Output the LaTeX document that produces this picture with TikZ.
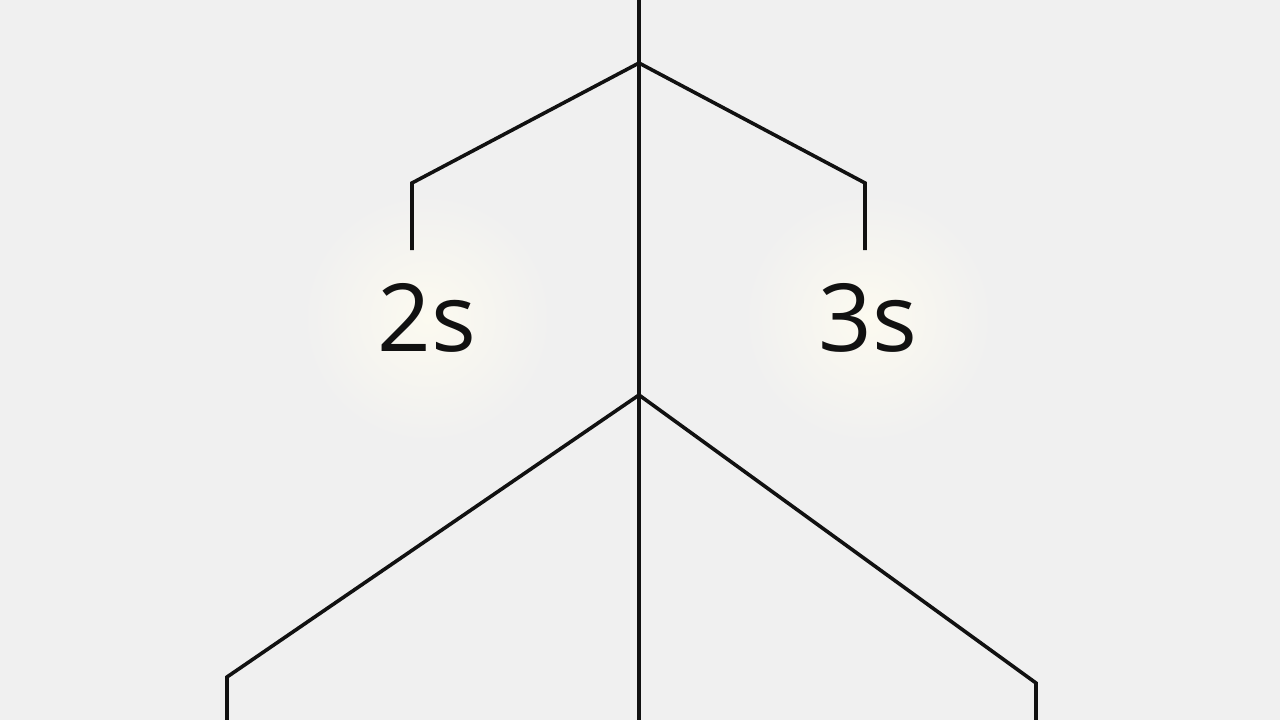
\documentclass[tikz,border=0pt]{standalone}
\usepackage{fontspec}
\setmainfont{Open Sans}
\usetikzlibrary{positioning}
\definecolor{bg}{RGB}{240,240,240}
\definecolor{glow}{RGB}{252,250,240}
\definecolor{ink}{RGB}{17,17,17}
\tikzstyle{wire}=[draw=ink,line width=3.6pt,line join=miter]
\tikzstyle{orbital}=[font=\fontsize{94}{94}\selectfont,text=ink,inner sep=0pt]

\begin{document}
\begin{tikzpicture}[x=1pt,y=-1pt]
  \fill[bg] (0,0) rectangle (1280,720);
  \useasboundingbox (0,0) rectangle (1280,720);
  % soft glow behind the labels
  \shade[inner color=glow,outer color=bg] (427,318) circle (125pt);
  \shade[inner color=glow,outer color=bg] (868,318) circle (125pt);
  \coordinate (top) at (639,0);
  \coordinate (bot) at (639,720);
  \coordinate (j1) at (639,63);
  \coordinate (j2) at (639,395);
  \coordinate (l1) at (412,183);
  \coordinate (l1end) at (412,250);
  \coordinate (r1) at (865,183);
  \coordinate (r1end) at (865,250);
  \coordinate (l2) at (227,677);
  \coordinate (l2end) at (227,720);
  \coordinate (r2) at (1036,683);
  \coordinate (r2end) at (1036,720);
  \node[orbital] (s2) at (427,318) {2s};
  \node[orbital] (s3) at (868,318) {3s};
  \draw[wire] (top) -- (bot);
  \draw[wire] (l1end) -- (l1) -- (j1) -- (r1) -- (r1end);
  \draw[wire] (l2end) -- (l2) -- (j2) -- (r2) -- (r2end);
\end{tikzpicture}
\end{document}
